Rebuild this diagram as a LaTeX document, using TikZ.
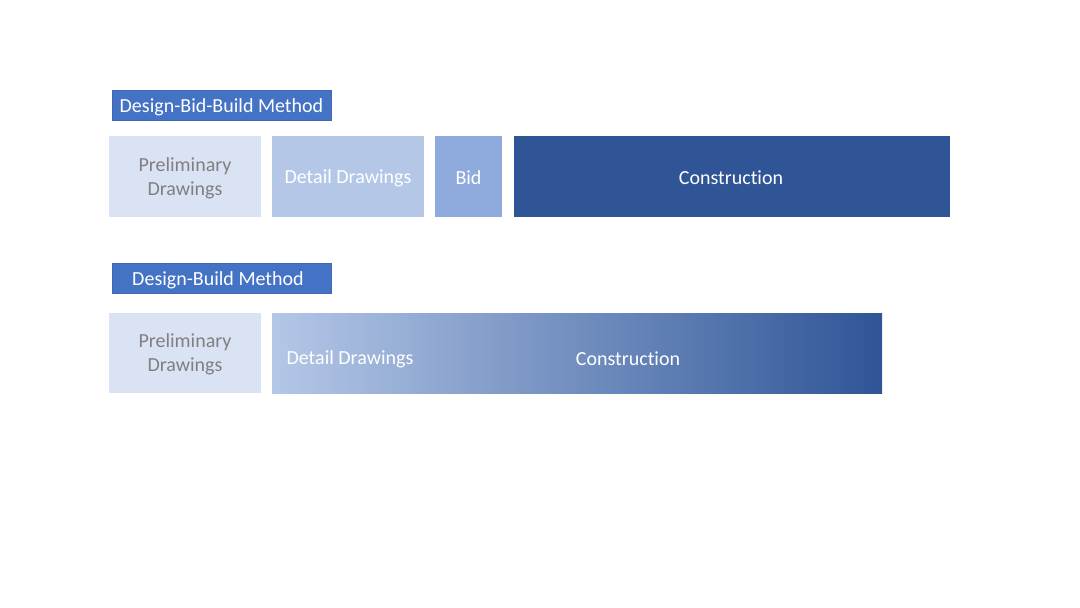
\documentclass[tikz,border=0pt]{standalone}
\usepackage{fontspec}
\setmainfont[Ligatures={NoCommon}]{Carlito}
\definecolor{titleblue}{HTML}{4472C4}
\definecolor{pale}{HTML}{DAE3F3}
\definecolor{light}{HTML}{B4C7E7}
\definecolor{mid}{HTML}{8FAADC}
\definecolor{dark}{HTML}{2F5597}
\definecolor{graymid}{HTML}{8A9CBE}
\definecolor{txtgray}{HTML}{808080}
\begin{document}
\begin{tikzpicture}[x=1pt,y=-1pt,
  lbl/.style={font=\fontsize{20}{24}\selectfont, align=center, inner sep=0pt},
  titlebox/.style={fill=titleblue, draw=titleblue!90!black, line width=0.4pt}]
\useasboundingbox (0,0) rectangle (1080,608);
% Design-Bid-Build
\fill[titlebox] (112,90) rectangle (331,120);
\node[lbl, text=white] (t1) at (221.5,107) {Design-Bid-Build Method};
\fill[pale] (109,136) rectangle (261,217);
\node[lbl, text=txtgray] (p1) at (185,178) {Preliminary\\Drawings};
\fill[light] (272,136) rectangle (424,217);
\node[lbl, text=white] (d1) at (348,178) {Detail Drawings};
\fill[mid] (435,136) rectangle (502,217);
\node[lbl, text=white] (b1) at (468.5,178) {Bid};
\fill[dark] (514,136) rectangle (950,217);
\node[lbl, text=white] (c1) at (731,178) {Construction};
% Design-Build
\fill[titlebox] (112,263) rectangle (331,293);
\node[lbl, text=white] (t2) at (218,280) {Design-Build Method};
\fill[pale] (109,313) rectangle (261,393);
\node[lbl, text=txtgray] (p2) at (185,354) {Preliminary\\Drawings};
\shade[left color=light, middle color=graymid, right color=dark] (272,313) rectangle (882,393);
\node[lbl, text=white] (d2) at (350,359) {Detail Drawings};
\node[lbl, text=white] (c2) at (628,359) {Construction};
\end{tikzpicture}
\end{document}
